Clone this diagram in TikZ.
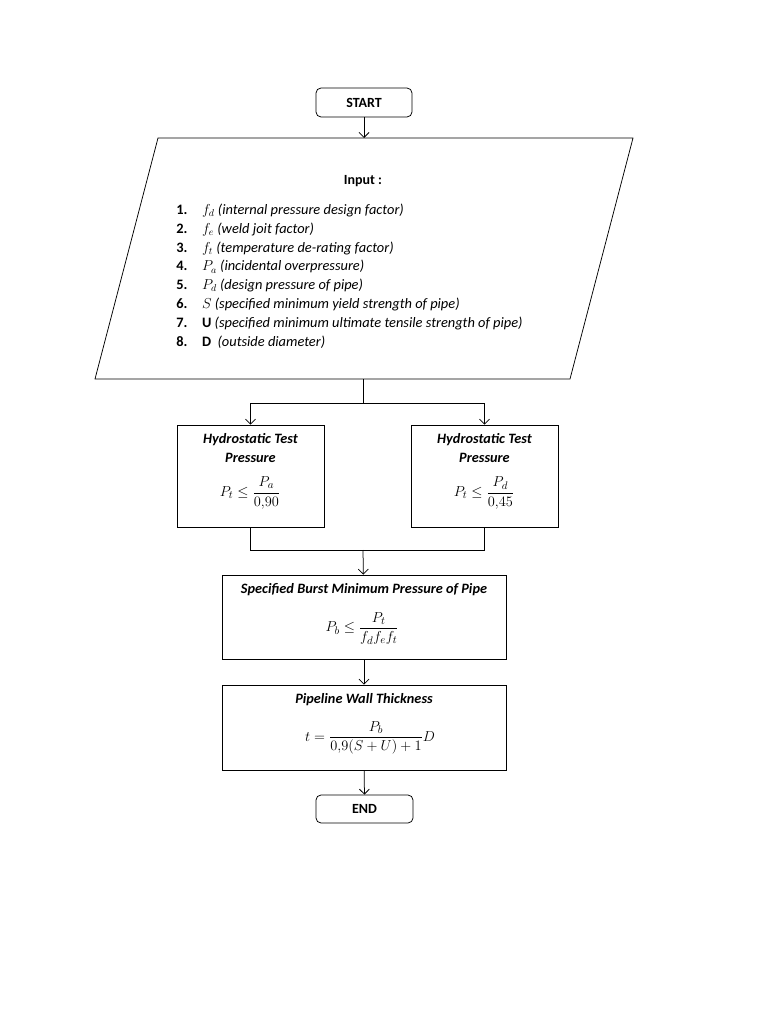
\documentclass[tikz,border=0pt]{standalone}
\usepackage{amsmath}
\usepackage{fontspec}
\setmainfont{Carlito}
\usetikzlibrary{arrows.meta}

\tikzset{every picture/.style={line width=0.75pt}}

\begin{document}
\begin{tikzpicture}[x=1pt,y=1pt,yscale=-1,xscale=1,
  every node/.style={font=\fontsize{14}{19}\selectfont},
  >={Straight Barb[length=5pt,width=10pt]},
  term/.style={draw,rounded corners=5pt,minimum width=96,minimum height=29,inner sep=0pt},
  procbox/.style={draw,inner sep=0pt},
  boxtitle/.style={align=center,inner sep=0pt,font=\fontsize{14.3}{19}\selectfont\bfseries\itshape},
  formula/.style={inner sep=0pt,font=\fontsize{15.6}{19}\selectfont}]
%set diagram to the page size
\useasboundingbox (0,0) rectangle (768,1024);

% Terminals
\node[term] (start) at (364,102.5) {\textbf{START}};
\node[term,minimum width=97,minimum height=28] (stop) at (364.5,809) {\textbf{END}};

%Shape: Parallelogram (input)
\draw (158,138) -- (633,138) -- (570,379) -- (95,379) -- cycle;
\coordinate (inTop) at (364,138);
\coordinate (inBot) at (363,379);

% Text Node
\node (inputHead) at (363,181) {\textbf{Input :}};
% Text Node
\node[anchor=north west,inner sep=0pt,font=\fontsize{14.4}{18.86}\selectfont] (inputList) at (176,200.8) {%
  \renewcommand{\arraystretch}{1}%
  \begin{tabular}{@{}l@{\hspace{14.5pt}}l@{}}
  \textbf{1.} & $f_d$ \textit{(internal pressure design factor)}\\
  \textbf{2.} & $f_e$ \textit{(weld joit factor)}\\
  \textbf{3.} & $f_t$ \textit{(temperature de-rating factor)}\\
  \textbf{4.} & $P_a$ \textit{(incidental overpressure)}\\
  \textbf{5.} & $P_d$ \textit{(design pressure of pipe)}\\
  \textbf{6.} & $S$ \textit{(specified minimum yield strength of pipe)}\\
  \textbf{7.} & \textbf{U} \textit{(specified minimum ultimate tensile strength of pipe)}\\
  \textbf{8.} & \textbf{D}\ \ \textit{(outside diameter)}
  \end{tabular}};

% Process boxes
\node[procbox,minimum width=147,minimum height=102] (hydroL) at (250.5,476) {};
\node[procbox,minimum width=147,minimum height=102] (hydroR) at (484.5,476) {};
\node[procbox,minimum width=284,minimum height=84] (burst) at (364,617) {};
\node[procbox,minimum width=284,minimum height=85] (wall) at (364,727.5) {};

% Text Node
\node[boxtitle] (hydroLTitle) at (250.5,448.5) {Hydrostatic Test\\Pressure};
\node[formula] (hydroLEq) at (250,493) {$P_t \le \dfrac{P_a}{0{,}90}$};
% Text Node
\node[boxtitle] (hydroRTitle) at (484.5,448.5) {Hydrostatic Test\\Pressure};
\node[formula] (hydroREq) at (484,493) {$P_t \le \dfrac{P_d}{0{,}45}$};
% Text Node
\node[boxtitle] (burstTitle) at (364,590) {Specified Burst Minimum Pressure of Pipe};
\node[formula] (burstEq) at (362,628.5) {$P_b \le \dfrac{P_t}{f_d f_e f_t}$};
% Text Node
\node[boxtitle] (wallTitle) at (364,700) {Pipeline Wall Thickness};
\node[formula] (wallEq) at (370,738) {$t = \dfrac{P_b}{0{,}9(S+U)+1}D$};

% Connectors
\coordinate (split) at (363,403);
\coordinate (merge) at (363,550);
\draw[->] (start) -- (inTop);
\draw (inBot) -- (split);
\draw[->] (split) -| (hydroL);
\draw[->] (split) -| (hydroR);
\draw (hydroL) |- (merge);
\draw (hydroR) |- (merge);
\draw[->] (merge) -- (burst);
\draw[->] (burst) -- (wall);
\draw[->] (wall) -- (stop);

\end{tikzpicture}
\end{document}
